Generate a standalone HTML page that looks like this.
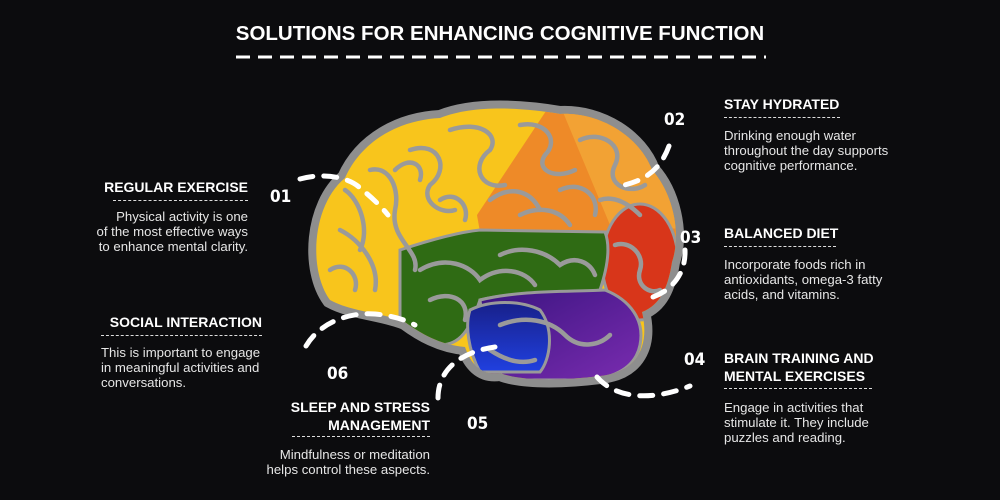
<!DOCTYPE html>
<html><head><meta charset="utf-8"><style>
*{margin:0;padding:0;box-sizing:border-box}
body{width:1000px;height:500px;background:#0c0c0e;position:relative;overflow:hidden;font-family:"Liberation Sans",sans-serif;color:#fff}
.t{position:absolute;white-space:nowrap}
.h{font-weight:bold;font-size:14px;line-height:18px}
.b{font-size:13.2px;line-height:15px;color:#e6e6e6}
.u{position:absolute;height:0;border-top:1.3px dashed #ddd}
.n{position:absolute;font-weight:bold;font-size:17px;font-family:"DejaVu Sans Condensed","Liberation Sans",sans-serif}
.r{text-align:right}
</style></head><body>
<div class="t" style="left:0;width:1000px;top:22px;text-align:center;font-weight:bold;font-size:20.5px">SOLUTIONS FOR ENHANCING COGNITIVE FUNCTION</div>
<svg style="position:absolute;left:0;top:0" width="1000" height="500">
<line x1="236" y1="57" x2="766" y2="57" stroke="#fff" stroke-width="3" stroke-dasharray="14 8"/>
<defs>
<clipPath id="c"><path id="o" d="M330,300 C308,270 312,205 345,178 C362,140 400,120 440,118 C475,104 525,108 560,114 C602,112 640,138 652,170 C672,192 682,232 672,262 C668,288 660,305 642,312 C650,345 638,372 600,376 C560,381 520,381 500,373 C480,376 470,362 465,347 C440,345 420,333 405,322 C380,312 352,312 330,300 Z"/></clipPath>
<linearGradient id="pg" x1="0" y1="0" x2="1" y2="1"><stop offset="0" stop-color="#3a1480"/><stop offset="1" stop-color="#7a2cb0"/></linearGradient>
<linearGradient id="bg" x1="0" y1="0" x2="0" y2="1"><stop offset="0" stop-color="#18208a"/><stop offset="1" stop-color="#2040e0"/></linearGradient>
</defs>
<use href="#o" fill="none" stroke="#8e8e8e" stroke-width="16"/>
<g clip-path="url(#c)">
<rect x="300" y="100" width="400" height="300" fill="#f8c51c"/>
<path d="M477,215 L550,105 L700,105 L700,240 L600,242 L480,232 Z" fill="#ee8a28"/>
<path d="M560,105 L700,105 L700,230 L610,225 Z" fill="#f2a234"/>
<ellipse cx="640" cy="262" rx="38" ry="58" fill="#d8361a" stroke="#999" stroke-width="3"/>
<path d="M400,250 C430,240 460,232 480,230 L605,232 C612,250 605,275 600,290 C570,295 520,290 480,300 C470,330 460,345 440,345 L400,330 Z" fill="#2f6b14" stroke="#999" stroke-width="3"/>
<path d="M480,300 C520,290 570,292 605,290 C630,300 645,320 640,345 C635,370 610,380 580,380 L490,380 Z" fill="url(#pg)" stroke="#999" stroke-width="3"/>
<path d="M470,310 C490,300 520,300 540,310 C555,330 550,360 540,372 L480,372 C468,350 465,325 470,310 Z" fill="url(#bg)" stroke="#999" stroke-width="3"/>
<g fill="none" stroke="#9a9a9a" stroke-width="4.5" stroke-linecap="round">
<path d="M345,190 C360,200 370,230 360,250 M340,230 C360,240 380,265 375,290"/>
<path d="M370,170 C390,165 400,190 395,210 C390,240 420,250 415,270"/>
<path d="M410,150 C440,140 450,170 430,185 C420,200 440,215 455,210"/>
<path d="M450,130 C480,120 500,135 490,150 C470,165 480,190 505,185"/>
<path d="M520,125 C545,120 560,140 545,155 C535,170 555,180 575,170"/>
<path d="M490,200 C510,185 530,190 540,210 M560,190 C580,180 600,195 595,215"/>
<path d="M580,140 C600,130 625,145 615,165 C605,185 630,195 645,185"/>
<path d="M420,270 C445,255 470,265 480,280 C500,265 525,270 535,285"/>
<path d="M430,300 C450,290 470,300 465,320 M500,255 C520,245 545,250 560,265 C575,255 590,262 595,275"/>
<path d="M615,245 C630,240 645,255 640,270 C635,285 650,295 660,290"/>
<path d="M500,325 C525,315 550,320 565,335 C580,350 600,345 610,335"/>
<path d="M490,350 C505,360 520,365 535,360"/>
<path d="M330,270 C345,260 360,275 355,290"/>
<path d="M395,170 C410,155 425,165 420,180 M440,200 C455,190 470,205 465,220"/>
<path d="M600,200 C615,195 630,205 640,215 M520,215 C540,205 560,210 570,225"/>
</g>
</g>
<g fill="none" stroke="#fff" stroke-width="5" stroke-linecap="round" stroke-dasharray="13 11">
<path d="M300,179 C325,172 350,178 360,188 C370,196 380,205 388,215"/>
<path d="M669,146 C662,165 650,180 620,186"/>
<path d="M685,250 C686,275 670,292 650,298"/>
<path d="M597,377 C615,398 650,402 690,386"/>
<path d="M438,398 C438,370 460,352 495,347"/>
<path d="M306,346 C320,322 350,312 375,314 C395,316 405,320 415,325"/>
</g>
</svg>
<div class="n" style="left:270px;top:187px">01</div>
<div class="n" style="left:664px;top:110px">02</div>
<div class="n" style="left:680px;top:228px">03</div>
<div class="n" style="left:684px;top:350px">04</div>
<div class="n" style="left:467px;top:414px">05</div>
<div class="n" style="left:327px;top:364px">06</div>

<div class="t h r" style="right:752px;top:178px">REGULAR EXERCISE</div>
<div class="u" style="left:113px;width:135px;top:200px"></div>
<div class="t b r" style="right:752px;top:209px">Physical activity is one<br>of the most effective ways<br>to enhance mental clarity.</div>

<div class="t h" style="left:724px;top:95px">STAY HYDRATED</div>
<div class="u" style="left:724px;width:116px;top:117px"></div>
<div class="t b" style="left:724px;top:128px">Drinking enough water<br>throughout the day supports<br>cognitive performance.</div>

<div class="t h" style="left:724px;top:224px">BALANCED DIET</div>
<div class="u" style="left:724px;width:112px;top:246px"></div>
<div class="t b" style="left:724px;top:257px">Incorporate foods rich in<br>antioxidants, omega-3 fatty<br>acids, and vitamins.</div>

<div class="t h" style="left:724px;top:349px">BRAIN TRAINING AND<br>MENTAL EXERCISES</div>
<div class="u" style="left:724px;width:148px;top:388px"></div>
<div class="t b" style="left:724px;top:400px">Engage in activities that<br>stimulate it. They include<br>puzzles and reading.</div>

<div class="t h r" style="right:738px;top:313px">SOCIAL INTERACTION</div>
<div class="u" style="left:101px;width:161px;top:335px"></div>
<div class="t b" style="left:101px;top:345px">This is important to engage<br>in meaningful activities and<br>conversations.</div>

<div class="t h r" style="right:570px;top:398px">SLEEP AND STRESS<br>MANAGEMENT</div>
<div class="u" style="left:292px;width:138px;top:436px"></div>
<div class="t b r" style="right:570px;top:447px">Mindfulness or meditation<br>helps control these aspects.</div>
</body></html>
